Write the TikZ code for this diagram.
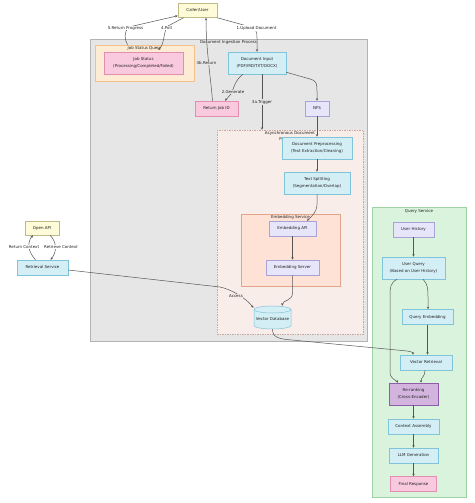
\documentclass[tikz,border=0pt]{standalone}
\usepackage{fontspec}
\setmainfont{DejaVu Sans}
\usetikzlibrary{arrows.meta,calc}
\definecolor{txt}{HTML}{222222}
\definecolor{edgec}{HTML}{555555}
\definecolor{yelF}{HTML}{FDFBD8}\definecolor{yelD}{HTML}{BDBA86}
\definecolor{pinkF}{HTML}{F9C9DD}\definecolor{pinkD}{HTML}{E38DB0}
\definecolor{blueF}{HTML}{D4EEF6}\definecolor{blueD}{HTML}{7FC4D9}
\definecolor{lavF}{HTML}{E7E5FA}\definecolor{lavD}{HTML}{A8A3D6}
\definecolor{purF}{HTML}{D2B4DE}\definecolor{purD}{HTML}{8E5FA8}
\definecolor{ingF}{HTML}{E6E6E6}\definecolor{ingD}{HTML}{B3B3B3}
\definecolor{jsqF}{HTML}{FDEBD3}\definecolor{jsqD}{HTML}{F2C08A}
\definecolor{asyF}{HTML}{F8EDE9}\definecolor{asyD}{HTML}{C9A8A0}
\definecolor{embF}{HTML}{FDE2D5}\definecolor{embD}{HTML}{E2A48B}
\definecolor{qsF}{HTML}{D9F3DD}\definecolor{qsD}{HTML}{9CD2A4}
\newcommand\dgfont{\fontsize{4.0}{6.7}\selectfont}
\begin{document}
\begin{tikzpicture}[x=1pt,y=-1pt,
  wh/.style 2 args={minimum width=#1, minimum height=#2},
  box/.style={draw, line width=0.5pt, inner sep=0pt, align=center, font=\dgfont, text=txt},
  yel/.style={box, fill=yelF, draw=yelD},
  pink/.style={box, fill=pinkF, draw=pinkD},
  blue/.style={box, fill=blueF, draw=blueD},
  lav/.style={box, fill=lavF, draw=lavD},
  pur/.style={box, fill=purF, draw=purD},
  cl/.style={draw, line width=0.5pt, inner sep=0pt},
  clabel/.style={font=\dgfont, text=txt, inner sep=0pt, align=center},
  elabel/.style={font=\dgfont, text=txt, inner sep=0.6pt},
  arr/.style={draw=edgec, line width=0.5pt, -{Stealth[length=2.6pt,width=2.4pt]}}
]
\useasboundingbox (0,0) rectangle (474,503);
\fill[white] (0,0) rectangle (474,503);

% clusters
\node[cl, fill=ingF, draw=ingD, wh={277}{302}] (ingest) at (228.5,190) {};
\node[clabel] at (228.5,42.5) {Document Ingestion Process};
\node[cl, fill=jsqF, draw=jsqD, wh={99}{36}] (jsq) at (144.5,63) {};
\node[clabel] at (144.5,48.5) {Job Status Query};
\node[cl, fill=asyF, draw=asyD, dash pattern=on 1.5pt off 1pt, wh={146}{204}] (async) at (290,232) {};
\node[clabel] at (290,136.5) {Asynchronous Document\\Processing};
\node[cl, fill=embF, draw=embD, wh={99}{72}] (embed) at (290.5,250) {};
\node[clabel] at (290.5,217.5) {Embedding Service};
\node[cl, fill=qsF, draw=qsD, wh={94}{290}] (qs) at (419,352) {};
\node[clabel] at (419,211) {Query Service};

% nodes
\node[yel, wh={39}{14}] (caller) at (197.5,10.5) {Caller/User};
\node[pink, wh={79}{22}] (jobstatus) at (143.5,63) {Job Status\\(Processing/Completed/Failed)};
\node[blue, wh={58}{22}] (docinput) at (257,63) {Document Input\\(PDF/MD/TXT/DOCX)};
\node[pink, wh={43}{15}] (returnjob) at (216.5,108.5) {Return Job ID};
\node[lav, wh={24}{15}] (nfs) at (317,108.5) {NFS};
\node[blue, wh={70}{22}] (docprep) at (317,148) {Document Preprocessing\\(Text Extraction/Cleaning)};
\node[blue, wh={66}{22}] (textsplit) at (317,183) {Text Splitting\\(Segmentation/Overlap)};
\node[lav, wh={47}{15}] (embedapi) at (292.5,228.5) {Embedding API};
\node[lav, wh={53}{15}] (embedserver) at (292.5,267.5) {Embedding Server};
% vector database cylinder
\fill[blueF] (254,309.5) -- (254,325.5) arc[start angle=180,end angle=0,x radius=18.5,y radius=3.5] -- (291,309.5) arc[start angle=0,end angle=-180,x radius=18.5,y radius=3.5] -- cycle;
\draw[blueD, line width=0.5pt] (254,309.5) -- (254,325.5) arc[start angle=180,end angle=0,x radius=18.5,y radius=3.5] -- (291,309.5) arc[start angle=0,end angle=-180,x radius=18.5,y radius=3.5] -- cycle;
\draw[blueD, line width=0.5pt] (254,309.5) arc[start angle=180,end angle=0,x radius=18.5,y radius=3.5];
\node[font=\dgfont, text=txt, inner sep=0pt, wh={37}{23}] (vdb) at (272.5,317.5) {};
\node[font=\dgfont, text=txt, inner sep=0pt] at (272.5,319) {Vector Database};
\node[yel, wh={34}{14}] (openapi) at (42,228) {Open API};
\node[blue, wh={51}{15}] (retrieval) at (42.5,267.5) {Retrieval Service};
\node[lav, wh={41}{15}] (userhistory) at (413.5,229.5) {User History};
\node[blue, wh={63}{22}] (userquery) at (413.5,268) {User Query\\(Based on User History)};
\node[blue, wh={51}{15}] (queryembed) at (427.5,317) {Query Embedding};
\node[blue, wh={52}{15}] (vecretrieval) at (426,362.5) {Vector Retrieval};
\node[pur, wh={49}{22}] (rerank) at (413.5,394) {Re-ranking\\(Cross-Encoder)};
\node[blue, wh={51}{15}] (context) at (413.5,426.5) {Context Assembly};
\node[blue, wh={49}{15}] (llm) at (413.5,455.5) {LLM Generation};
\node[pink, wh={46}{15}] (final) at (413.5,484) {Final Response};

% edges
\draw[arr] (caller.south east) -- (249,26.5) .. controls (256,28.5) and (257,31) .. (257,38) -- (docinput.north);
\node[elabel, fill=white] at (256.5,28) {1.Upload Document};
\draw[arr] ([xshift=-14pt]docinput.south) .. controls (235,80) and (234,88) .. (231,94) -- ([xshift=8.5pt]returnjob.north);
\node[elabel, fill=ingF] at (233,92) {2.Generate};
\draw[arr] ([xshift=-4pt]returnjob.north) .. controls (211,80) and (206,50) .. ([xshift=8.5pt]caller.south);
\node[elabel, fill=ingF] at (206.5,63) {3b.Return};
\draw[arr] ([xshift=5pt]docinput.south) -- ([xshift=-28pt]async.north);
\node[elabel, fill=ingF] at (262,102) {3a.Trigger};
\draw[arr] ([yshift=2pt]docinput.south east) -- (310,79) .. controls (317,81) and (317,84) .. (317,92) -- (nfs.north);
\draw[arr] (nfs) -- (docprep);
\draw[arr] ([xshift=-17pt]jsq.north) .. controls (125,40) and (123,33) .. (129,27) -- ([yshift=2pt]caller.south west);
\node[elabel, fill=white] at (125.5,28) {5.Return Progress};
\draw[arr] ([xshift=-14pt]caller.south) -- (168,26) .. controls (163,31) and (165,44) .. ([xshift=13.5pt,yshift=-5pt]jsq.north);
\node[elabel, fill=white] at (166.5,28) {4.Poll};
\draw[arr] (docprep) -- (textsplit);
\draw[arr] (textsplit.south) -- (317,204) .. controls (317,212) and (312,216) .. ([xshift=14.5pt]embedapi.north);
\draw[arr] (embedapi) -- (embedserver);
\draw[arr] (embedserver.south) -- (292.5,293) .. controls (292.5,301) and (283,300) .. ([xshift=9.5pt]vdb.north);
\draw[arr] ([yshift=-2.5pt]retrieval.east) -- (220,287) .. controls (230,289) and (245,297) .. ([xshift=-19pt,yshift=-2pt]vdb.north);
\node[elabel, fill=asyF] at (236,296) {Access};
\draw[arr] ([xshift=-7pt]retrieval.north) .. controls (28,252) and (27,242) .. ([xshift=-9pt]openapi.south);
\node[elabel, fill=white] at (24,247) {Return Context};
\draw[arr] ([xshift=8pt]openapi.south) .. controls (57,242) and (57,252) .. ([xshift=8pt]retrieval.north);
\node[elabel, fill=white] at (61,247) {Retrieve Context};
\draw[arr] (vdb.south) .. controls (272.5,337) and (278,339) .. (292,340) -- (402,350.5) .. controls (409,351) and (413,352) .. ([xshift=-13pt]vecretrieval.north);
\draw[arr] (userhistory) -- (userquery);
\draw[arr] ([xshift=9.5pt]userquery.south) .. controls (428,284) and (428,290) .. (428,297) -- ([xshift=0.5pt]queryembed.north);
\draw[arr] ([xshift=-16.5pt]userquery.south) .. controls (390,283) and (390,288) .. (390,296) -- (390,372) .. controls (390,379) and (396,380) .. ([xshift=-15.5pt]rerank.north);
\draw[arr] (queryembed.south) -- (queryembed.south |- vecretrieval.north);
\draw[arr] ([xshift=-1pt]vecretrieval.south) .. controls (425,377) and (421,377) .. ([xshift=7.5pt]rerank.north);
\draw[arr] (rerank) -- (context);
\draw[arr] (context) -- (llm);
\draw[arr] (llm) -- (final);
\end{tikzpicture}
\end{document}
